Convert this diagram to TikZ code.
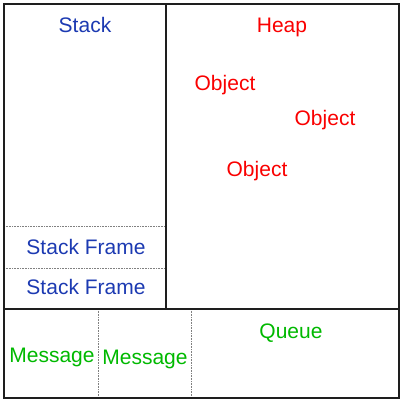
\documentclass[tikz,border=0pt]{standalone}
\usepackage{fontspec}
\setmainfont{Liberation Sans}
\definecolor{sblue}{RGB}{28,58,178}
\definecolor{hred}{RGB}{250,0,0}
\definecolor{qgreen}{RGB}{0,185,0}
\definecolor{frame}{RGB}{30,30,30}
\tikzset{
  box/.style={draw=frame,line width=1.6pt},
  sep/.style={draw=gray,line width=0.6pt,densely dotted},
  lbl/.style={font=\fontsize{21}{21}\selectfont,inner sep=0pt,anchor=base},
  st/.style={lbl,text=sblue},
  hp/.style={lbl,text=hred},
  qu/.style={lbl,text=qgreen}
}
\begin{document}
\begin{tikzpicture}[x=1pt,y=-1pt]
\useasboundingbox (0,0) rectangle (404,405);
\fill[white] (0,0) rectangle (404,405);
% dotted separators
\draw[sep] (4,226) -- (166,226);
\draw[sep] (4,268) -- (166,268);
\draw[sep] (98,309) -- (98,398);
\draw[sep] (191,309) -- (191,398);
% boxes
\draw[box] (4,4) rectangle (166,309);
\draw[box] (166,4) rectangle (399,309);
\draw[box] (4,309) rectangle (399,398);
% labels
\node[st] (stack) at (85,32) {Stack};
\node[st] (sf1) at (86,254) {Stack Frame};
\node[st] (sf2) at (86,294) {Stack Frame};
\node[hp] (heap) at (282,32) {Heap};
\node[hp] (o1) at (225,90) {Object};
\node[hp] (o2) at (325,125) {Object};
\node[hp] (o3) at (257,176) {Object};
\node[qu] (queue) at (291,338) {Queue};
\node[qu] (m1) at (52,362) {Message};
\node[qu] (m2) at (145,364) {Message};
\end{tikzpicture}
\end{document}
